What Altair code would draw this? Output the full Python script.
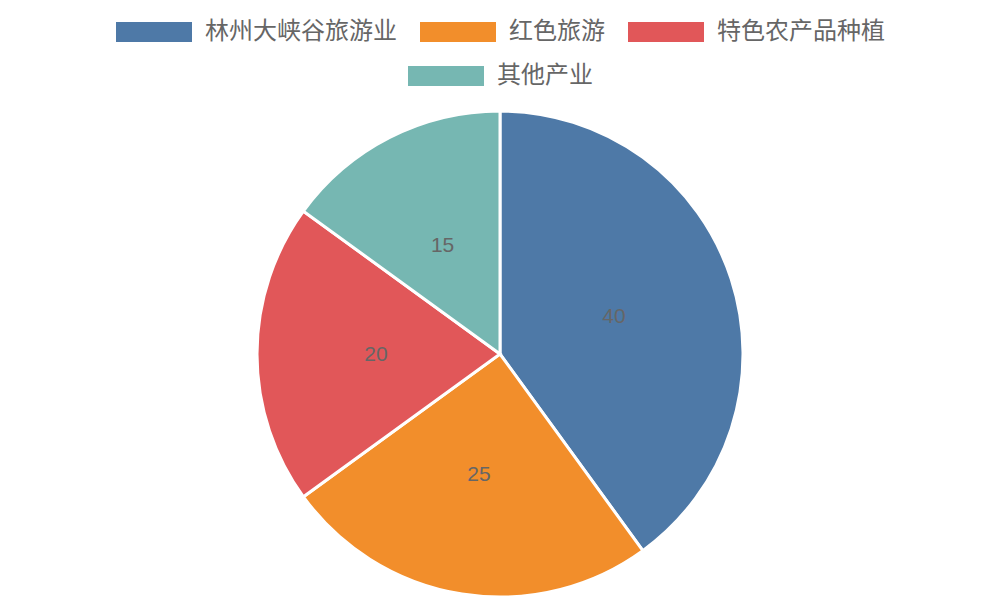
import altair as alt
import pandas as pd

categories = ["林州大峡谷旅游业", "红色旅游", "特色农产品种植", "其他产业"]
values = [40, 25, 20, 15]
colors = ["#4e79a7", "#f28e2b", "#e15759", "#76b7b2"]

df = pd.DataFrame({"cat": categories, "val": values, "idx": list(range(len(categories)))})

rect_path = "M-3.8,-1L3.8,-1L3.8,1L-3.8,1Z"
FONT = "Noto Sans CJK SC"

def legend(vals, lx, ly):
    return alt.Legend(
        title=None, values=vals, orient="none", direction="horizontal",
        legendX=lx, legendY=ly, symbolType=rect_path, symbolSize=400,
        symbolStrokeWidth=0, symbolOpacity=1, labelFont=FONT, labelFontSize=24,
        labelColor="#666666", labelOffset=39, columnPadding=23, columns=4,
        labelLimit=0,
    )

base = alt.Chart(df)

pie = base.mark_arc(outerRadius=243, stroke="white", strokeWidth=3).encode(
    theta=alt.Theta("val:Q", stack=True),
    order=alt.Order("idx:Q"),
    color=alt.Color("cat:N", scale=alt.Scale(domain=categories, range=colors),
                    legend=legend(categories[:3], 134, -88)),
)

ghost = base.mark_arc(outerRadius=243, opacity=0).encode(
    theta=alt.Theta("val:Q", stack=True),
    order=alt.Order("idx:Q"),
    color=alt.Color("cat:N", scale=alt.Scale(domain=categories, range=colors),
                    legend=legend(categories[3:], 426, -44)),
)

labels = base.mark_text(radius=122, font="Liberation Sans", fontSize=21, color="#666666",
                        dx=-2, dy=1).encode(
    theta=alt.Theta("val:Q", stack=True),
    order=alt.Order("idx:Q"),
    text=alt.Text("val:Q"),
)

chart = alt.layer(pie, ghost, labels).resolve_scale(color="independent").resolve_legend(
    color="independent"
).properties(
    width=984, height=492, padding={"top": 100, "left": 0, "right": 0, "bottom": 0},
    autosize=alt.AutoSizeParams(type="none"),
).configure_view(stroke=None)

chart.save("out.html", embed_options={"renderer": "svg", "actions": False})
